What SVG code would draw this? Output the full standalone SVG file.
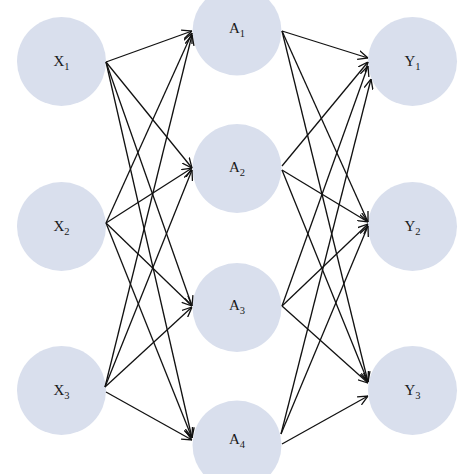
<svg xmlns="http://www.w3.org/2000/svg" width="474" height="474" viewBox="0 0 474 474">
<style>
.n{fill:#d9dfed;}
.t{font-family:"Liberation Serif","Times New Roman",serif;font-size:15px;fill:#1a1a1a;text-anchor:middle;}
.s{font-size:10.5px;}
.c line{stroke:#111;stroke-width:1.3;fill:none;marker-end:url(#ah);}
</style>
<defs>
<marker id="ah" viewBox="0 0 10 10" refX="10" refY="5" markerWidth="10" markerHeight="10" markerUnits="userSpaceOnUse" orient="auto">
<path d="M0,0.5 L10,5 L0,9.5" fill="none" stroke="#111" stroke-width="1.3"/>
</marker>
</defs>
<rect width="474" height="474" fill="#fff"/>
<g id="X1"><circle class="n" cx="61.5" cy="61.5" r="44.5"/><text class="t" x="61.5" y="66">X<tspan class="s" dy="4">1</tspan></text></g>
<g id="X2"><circle class="n" cx="61.5" cy="226.5" r="44.5"/><text class="t" x="61.5" y="231">X<tspan class="s" dy="4">2</tspan></text></g>
<g id="X3"><circle class="n" cx="61.5" cy="390.5" r="44.5"/><text class="t" x="61.5" y="395">X<tspan class="s" dy="4">3</tspan></text></g>
<g id="A1"><circle class="n" cx="237" cy="31" r="44.5"/><text class="t" x="237" y="33">A<tspan class="s" dy="4">1</tspan></text></g>
<g id="A2"><circle class="n" cx="237" cy="168.5" r="44.5"/><text class="t" x="237" y="172">A<tspan class="s" dy="4">2</tspan></text></g>
<g id="A3"><circle class="n" cx="237" cy="307.5" r="44.5"/><text class="t" x="237" y="310">A<tspan class="s" dy="4">3</tspan></text></g>
<g id="A4"><circle class="n" cx="237" cy="445" r="44.5"/><text class="t" x="237" y="444">A<tspan class="s" dy="4">4</tspan></text></g>
<g id="Y1"><circle class="n" cx="412.5" cy="61.5" r="44.5"/><text class="t" x="412.5" y="66">Y<tspan class="s" dy="4">1</tspan></text></g>
<g id="Y2"><circle class="n" cx="412.5" cy="226.5" r="44.5"/><text class="t" x="412.5" y="231">Y<tspan class="s" dy="4">2</tspan></text></g>
<g id="Y3"><circle class="n" cx="412.5" cy="390.5" r="44.5"/><text class="t" x="412.5" y="395">Y<tspan class="s" dy="4">3</tspan></text></g>
<g id="connectors" class="c">
<line x1="106" y1="62" x2="192" y2="31"/>
<line x1="106" y1="62" x2="192" y2="168"/>
<line x1="106" y1="62" x2="192" y2="306"/>
<line x1="106" y1="62" x2="192" y2="438"/>
<line x1="106" y1="223" x2="192" y2="33"/>
<line x1="106" y1="223" x2="192" y2="168"/>
<line x1="106" y1="223" x2="192" y2="306"/>
<line x1="106" y1="223" x2="192" y2="438"/>
<line x1="105" y1="387" x2="192" y2="35"/>
<line x1="105" y1="387" x2="192" y2="170"/>
<line x1="105" y1="387" x2="192" y2="307"/>
<line x1="106" y1="392" x2="192" y2="440"/>
<line x1="282" y1="31" x2="368" y2="58"/>
<line x1="282" y1="31" x2="368" y2="222"/>
<line x1="282" y1="31" x2="368" y2="382"/>
<line x1="282" y1="166" x2="368" y2="62"/>
<line x1="282" y1="170" x2="368" y2="222"/>
<line x1="282" y1="170" x2="368" y2="382"/>
<line x1="282" y1="306" x2="368" y2="66"/>
<line x1="282" y1="306" x2="368" y2="224"/>
<line x1="282" y1="306" x2="368" y2="383"/>
<line x1="281" y1="434" x2="371" y2="79"/>
<line x1="281" y1="434" x2="368" y2="226"/>
<line x1="282" y1="444" x2="368" y2="396"/>
</g>
</svg>
